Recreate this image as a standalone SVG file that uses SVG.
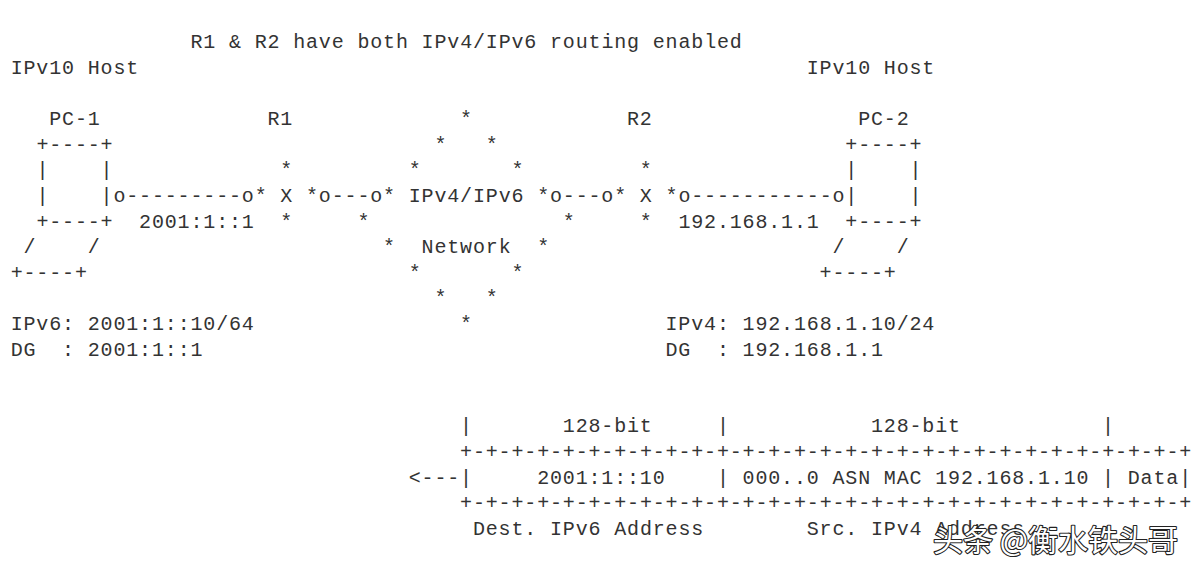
<svg xmlns="http://www.w3.org/2000/svg" width="1200" height="575" viewBox="0 0 1200 575">
<style>
text{font-family:"Liberation Mono","Courier New",monospace;font-size:20px;letter-spacing:0.84px;fill:#333;white-space:pre}
.wm{font-family:"Noto Sans CJK SC",sans-serif;font-size:30px;letter-spacing:0;fill:#fff;stroke:#222;stroke-width:2.2px;paint-order:stroke;stroke-linejoin:round}
</style>
<rect width="1200" height="575" fill="#fff"/>
<g transform="translate(1.5,0)">
<g id="title">
<text x="188.96" y="48.3">R1 &amp; R2 have both IPv4/IPv6 routing enabled</text>
</g>
<g id="host-labels">
<text x="9.2" y="73.9">IPv10 Host</text>
<text x="805.28" y="73.9">IPv10 Host</text>
</g>
<g id="pc1">
<text x="47.72" y="125.1">PC-1</text>
<text x="34.88" y="150.7">+----+</text>
<text x="34.88" y="176.3">|</text><text x="99.08" y="176.3">|</text>
<text x="34.88" y="201.9">|</text><text x="99.08" y="201.9">|</text>
<text x="34.88" y="227.5">+----+</text>
<text x="22.04" y="253.1">/</text><text x="86.24" y="253.1">/</text>
<text x="9.2" y="278.7">+----+</text>
</g>
<g id="r1">
<text x="266" y="125.1">R1</text>
<text x="278.84" y="176.3">*</text>
<text x="253.16" y="201.9">*</text><text x="278.84" y="201.9">X</text><text x="304.52" y="201.9">*</text>
<text x="278.84" y="227.5">*</text>
</g>
<g id="network">
<text x="458.6" y="125.1">*</text>
<text x="432.92" y="150.7">*</text><text x="484.28" y="150.7">*</text>
<text x="407.24" y="176.3">*</text><text x="509.96" y="176.3">*</text>
<text x="381.56" y="201.9">*</text><text x="407.24" y="201.9">IPv4/IPv6</text><text x="535.64" y="201.9">*</text>
<text x="355.88" y="227.5">*</text><text x="561.32" y="227.5">*</text>
<text x="381.56" y="253.1">*</text><text x="420.08" y="253.1">Network</text><text x="535.64" y="253.1">*</text>
<text x="407.24" y="278.7">*</text><text x="509.96" y="278.7">*</text>
<text x="432.92" y="304.3">*</text><text x="484.28" y="304.3">*</text>
<text x="458.6" y="329.9">*</text>
</g>
<g id="r2">
<text x="625.52" y="125.1">R2</text>
<text x="638.36" y="176.3">*</text>
<text x="612.68" y="201.9">*</text><text x="638.36" y="201.9">X</text><text x="664.04" y="201.9">*</text>
<text x="638.36" y="227.5">*</text>
</g>
<g id="pc2">
<text x="856.64" y="125.1">PC-2</text>
<text x="843.8" y="150.7">+----+</text>
<text x="843.8" y="176.3">|</text><text x="908" y="176.3">|</text>
<text x="843.8" y="201.9">|</text><text x="908" y="201.9">|</text>
<text x="843.8" y="227.5">+----+</text>
<text x="830.96" y="253.1">/</text><text x="895.16" y="253.1">/</text>
<text x="818.12" y="278.7">+----+</text>
</g>
<g id="connectors">
<text x="111.92" y="201.9">o---------o</text>
<text x="317.36" y="201.9">o---o</text>
<text x="548.48" y="201.9">o---o</text>
<text x="676.88" y="201.9">o-----------o</text>
</g>
<g id="address-labels">
<text x="137.6" y="227.5">2001:1::1</text>
<text x="676.88" y="227.5">192.168.1.1</text>
<text x="9.2" y="329.9">IPv6: 2001:1::10/64</text>
<text x="9.2" y="355.5">DG  : 2001:1::1</text>
<text x="664.04" y="329.9">IPv4: 192.168.1.10/24</text>
<text x="664.04" y="355.5">DG  : 192.168.1.1</text>
</g>
<g id="packet">
<text x="458.6" y="432.3">|</text><text x="561.32" y="432.3">128-bit</text><text x="715.4" y="432.3">|</text><text x="869.48" y="432.3">128-bit</text><text x="1100.6" y="432.3">|</text>
<text x="458.6" y="457.9">+-+-+-+-+-+-+-+-+-+-+-+-+-+-+-+-+-+-+-+-+-+-+-+-+-+-+-+-+</text>
<text x="407.24" y="483.5">&lt;---|</text><text x="535.64" y="483.5">2001:1::10</text><text x="715.4" y="483.5">|</text><text x="741.08" y="483.5">000..0 ASN MAC 192.168.1.10</text><text x="1100.6" y="483.5">|</text><text x="1126.28" y="483.5">Data|</text>
<text x="458.6" y="509.1">+-+-+-+-+-+-+-+-+-+-+-+-+-+-+-+-+-+-+-+-+-+-+-+-+-+-+-+-+</text>
<text x="471.44" y="534.7">Dest. IPv6 Address</text>
<text x="805.28" y="534.7">Src. IPv4 Address</text>
</g>
</g>
<g id="watermark">
<text class="wm" x="933" y="551">头条 @衡水铁头哥</text>
</g>
</svg>
